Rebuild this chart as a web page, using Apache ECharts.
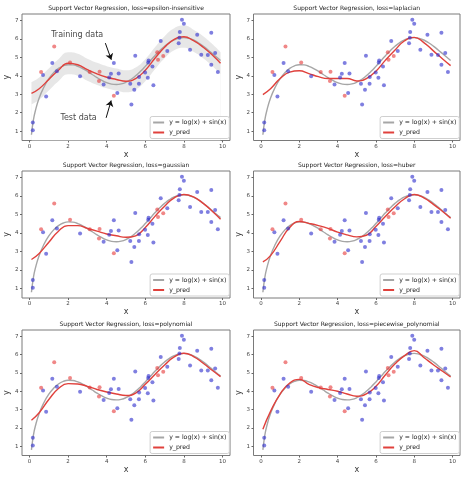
<!DOCTYPE html>
<html>
<head>
<meta charset="utf-8">
<script src="https://cdn.jsdelivr.net/npm/echarts@6/dist/echarts.min.js"></script>
<style>
  html, body { margin: 0; padding: 0; background: #fff; }
  #main { width: 474px; height: 477px; }
</style>
</head>
<body>
<div id="main"></div>
<script>
// scatter data, same in every panel
var trainX = [0.17, 0.17, 0.7, 0.86, 1.18, 1.42, 2.62, 3.84, 4.13, 4.22, 4.37, 4.55, 4.62, 5.22, 5.28, 5.43, 5.48, 5.67, 5.68, 5.99,
              6.13, 6.15, 6.17, 6.37, 6.42, 6.8, 7.14, 7.73, 7.77, 7.79, 7.9, 8.0, 8.32, 8.69, 8.9, 9.24, 9.42, 9.42, 9.62, 9.76];
var trainY = [1.46, 1.04, 4.04, 2.88, 4.69, 4.25, 3.97, 3.53, 3.91, 4.11, 4.69, 3.07, 4.13, 3.57, 2.44, 3.24, 5.08, 3.57, 3.93, 4.18,
              3.89, 4.72, 4.83, 4.5, 3.49, 5.88, 5.34, 5.77, 6.06, 6.37, 7.04, 6.82, 5.41, 6.22, 5.14, 5.13, 6.33, 4.6, 5.24, 4.2];
var testX = [0.6, 1.28, 2.1, 3.12, 3.63, 3.6, 4.37, 6.62, 6.66, 6.93];
var testY = [4.2, 5.59, 4.72, 4.21, 4.22, 3.71, 2.91, 5.27, 4.87, 5.07];

// y = log(x) + sin(x) curve
var trueX = [0.1, 0.2, 0.3, 0.5, 0.75, 1, 1.25, 1.5, 1.75, 2, 2.25, 2.5, 2.75, 3, 3.25, 3.5, 3.75, 4, 4.25, 4.5, 4.75, 5,
             5.25, 5.5, 5.75, 6, 6.25, 6.5, 6.75, 7, 7.25, 7.5, 7.75, 8, 8.25, 8.5, 8.75, 9, 9.25, 9.5, 9.75, 9.9];
var trueY = [0.8, 1.59, 2.09, 2.79, 3.39, 3.84, 4.17, 4.4, 4.54, 4.6, 4.59, 4.51, 4.39, 4.24, 4.07, 3.9, 3.75, 3.63, 3.55, 3.53, 3.56, 3.65,
             3.8, 4.0, 4.24, 4.51, 4.8, 5.09, 5.36, 5.6, 5.8, 5.95, 6.04, 6.07, 6.03, 5.94, 5.79, 5.61, 5.4, 5.18, 4.96, 4.83];

// y_pred curves, one per loss
var predX = [0.1, 0.5, 1, 1.5, 2, 2.5, 3, 3.5, 4, 4.5, 5, 5.5, 6, 6.5, 7, 7.5, 8, 8.5, 9, 9.5, 9.9];
var predEps = [3.05, 3.3, 3.8, 4.3, 4.68, 4.6, 4.33, 4.1, 3.92, 3.8, 3.7, 3.85, 4.3, 4.95, 5.55, 5.98, 6.12, 5.9, 5.55, 5.1, 4.68];
var predLap = [2.98, 3.3, 3.85, 4.2, 4.27, 4.12, 3.95, 3.85, 3.85, 3.85, 3.72, 3.85, 4.25, 4.85, 5.4, 5.9, 6.08, 5.8, 5.35, 4.9, 4.55];
var predGau = [2.57, 2.9, 3.5, 4.1, 4.4, 4.4, 4.25, 4.1, 3.95, 3.85, 3.77, 3.85, 4.3, 4.9, 5.45, 5.9, 6.08, 5.95, 5.6, 5.15, 4.75];
var predHub = [2.44, 2.78, 3.55, 4.3, 4.62, 4.52, 4.4, 4.25, 4.05, 3.9, 3.79, 3.88, 4.35, 4.9, 5.42, 5.85, 6.08, 5.9, 5.55, 5.15, 4.8];
var predPoly = [2.42, 2.83, 3.55, 4.15, 4.42, 4.4, 4.27, 4.1, 3.96, 3.85, 3.77, 3.9, 4.38, 4.92, 5.44, 5.88, 6.08, 5.9, 5.53, 5.12, 4.8];
var predPw = [1.93, 2.9, 3.85, 4.45, 4.65, 4.38, 4.2, 4.1, 4.0, 3.85, 3.73, 3.86, 4.27, 4.9, 5.5, 5.95, 6.22, 5.85, 5.45, 5.08, 4.78];
var epsilon = 0.6;

var xTicks = [0, 2, 4, 6, 8, 10];
var yTicks = [1, 2, 3, 4, 5, 6, 7];

var titles = [
    'Support Vector Regression, loss=epsilon-insensitive',
    'Support Vector Regression, loss=laplacian',
    'Support Vector Regression, loss=gaussian',
    'Support Vector Regression, loss=huber',
    'Support Vector Regression, loss=polynomial',
    'Support Vector Regression, loss=piecewise_polynomial'
];
var preds = [predEps, predLap, predGau, predHub, predPoly, predPw];

// panel boxes in px
var boxes = [
    [22, 14, 208, 126.5], [253.5, 14, 206.5, 126.5],
    [22, 171, 208, 127], [253.5, 171, 206.5, 127],
    [22, 330, 208, 125.5], [253.5, 330, 206.5, 125.5]
];

var FONT = 'DejaVu Sans';
var TRUE_NAME = 'y = log(x) + sin(x)';
var PRED_NAME = 'y_pred';
var GRAY = '#a6a6a6', RED = '#e0413c';

function pairs(xs, ys) {
    var out = [];
    for (var i = 0; i < xs.length; i++) out.push([xs[i], ys[i]]);
    return out;
}
function shifted(xs, ys, d) {
    var out = [];
    for (var i = 0; i < xs.length; i++) out.push([xs[i], ys[i] + d]);
    return out;
}

var grids = [], xAxes = [], yAxes = [], series = [], legends = [], graphics = [];

for (var p = 0; p < 6; p++) {
    var b = boxes[p];
    grids.push({
        left: b[0], top: b[1], width: b[2], height: b[3],
        show: true, borderColor: '#7a7a7a', borderWidth: 1, backgroundColor: '#fff'
    });
    xAxes.push({
        type: 'value', gridIndex: p, min: -0.39, max: 10.39,
        name: 'x', nameLocation: 'middle', nameGap: 10,
        nameTextStyle: { fontFamily: FONT, fontSize: 8, color: '#333' },
        axisLine: { show: false, onZero: false },
        splitLine: { show: false },
        axisTick: { show: true, customValues: xTicks, length: 2, lineStyle: { color: '#666' } },
        axisLabel: { customValues: xTicks, fontFamily: FONT, fontSize: 5.5, color: '#444', margin: 3 }
    });
    yAxes.push({
        type: 'value', gridIndex: p, min: 0.49, max: 7.35,
        name: 'y', nameLocation: 'middle', nameGap: 9,
        nameTextStyle: { fontFamily: FONT, fontSize: 8, color: '#333' },
        axisLine: { show: false, onZero: false },
        splitLine: { show: false },
        axisTick: { show: true, customValues: yTicks, length: 2, lineStyle: { color: '#666' } },
        axisLabel: { customValues: yTicks, fontFamily: FONT, fontSize: 5.5, color: '#444', margin: 3.5 }
    });

    if (p === 0) {
        // epsilon tube: grey fill under the upper edge, white fill under the lower edge
        series.push({
            type: 'line', name: 'tube-high', xAxisIndex: 0, yAxisIndex: 0,
            data: shifted(predX, preds[0], epsilon), symbol: 'none', smooth: true,
            lineStyle: { width: 0, opacity: 0 }, areaStyle: { color: '#dddddd', origin: 'start' },
            silent: true, z: 1
        });
        series.push({
            type: 'line', name: 'tube-low', xAxisIndex: 0, yAxisIndex: 0,
            data: shifted(predX, preds[0], -epsilon), symbol: 'none', smooth: true,
            lineStyle: { width: 0, opacity: 0 }, areaStyle: { color: '#ffffff', opacity: 1, origin: 'start' },
            silent: true, z: 2
        });
    }

    series.push({
        type: 'line', name: TRUE_NAME, xAxisIndex: p, yAxisIndex: p,
        data: pairs(trueX, trueY), symbol: 'none', smooth: true,
        lineStyle: { color: GRAY, width: 1.4 }, itemStyle: { color: GRAY }, z: 3
    });
    series.push({
        type: 'line', name: PRED_NAME, xAxisIndex: p, yAxisIndex: p,
        data: pairs(predX, preds[p]), symbol: 'none', smooth: true,
        lineStyle: { color: RED, width: 1.4 }, itemStyle: { color: RED }, z: 4
    });
    series.push({
        type: 'scatter', name: 'train', xAxisIndex: p, yAxisIndex: p,
        data: pairs(trainX, trainY), symbolSize: 4,
        itemStyle: { color: 'rgba(50,50,205,0.78)' }, z: 5
    });
    series.push({
        type: 'scatter', name: 'test', xAxisIndex: p, yAxisIndex: p,
        data: pairs(testX, testY), symbolSize: 4,
        itemStyle: { color: 'rgba(230,55,55,0.75)' }, z: 5
    });

    graphics.push({
        type: 'text', x: b[0] + b[2] / 2, y: b[1] - 6,
        style: { text: titles[p], align: 'center', verticalAlign: 'middle',
                 font: '6px "' + FONT + '"', fill: '#222' }
    });

    legends.push({
        data: [
            { name: TRUE_NAME, icon: 'rect', itemStyle: { color: GRAY } },
            { name: PRED_NAME, icon: 'rect', itemStyle: { color: RED } }
        ],
        orient: 'vertical',
        right: 474 - (b[0] + b[2]) + 0.7, bottom: 477 - (b[1] + b[3]) + 2,
        itemWidth: 11, itemHeight: 2, itemGap: 4, padding: [3, 3, 3, 3],
        backgroundColor: '#fff', borderColor: '#cfcfcf', borderWidth: 1, borderRadius: 2,
        selectedMode: false,
        textStyle: { fontFamily: FONT, fontSize: 6.2, color: '#222' }
    });
}

// annotations on the first panel
var trainNote = [1.12, 6.21], trainArrow = [[3.93, 5.77], [4.24, 4.87]];
var testNote = [1.6, 1.72], testArrow = [[3.97, 1.72], [4.23, 2.66]];
series.push({
    type: 'scatter', name: 'notes', xAxisIndex: 0, yAxisIndex: 0, symbolSize: 0, silent: true, z: 6,
    data: [
        { value: trainNote, label: { formatter: 'Training data' } },
        { value: testNote, label: { formatter: 'Test data' } }
    ],
    label: { show: true, position: 'right', distance: 0, fontFamily: FONT, fontSize: 8, color: '#111' }
});
series.push({
    type: 'lines', name: 'arrows', coordinateSystem: 'cartesian2d', xAxisIndex: 0, yAxisIndex: 0,
    silent: true, z: 6,
    symbol: ['none', 'arrow'], symbolSize: 6,
    lineStyle: { color: '#111', width: 1, opacity: 1 },
    data: [
        { coords: trainArrow },
        { coords: testArrow }
    ]
});

var chart = echarts.init(document.getElementById('main'));
chart.setOption({
    animation: false,
    backgroundColor: '#fff',
    grid: grids,
    xAxis: xAxes,
    yAxis: yAxes,
    legend: legends,
    graphic: graphics,
    series: series
});
</script>
</body>
</html>
